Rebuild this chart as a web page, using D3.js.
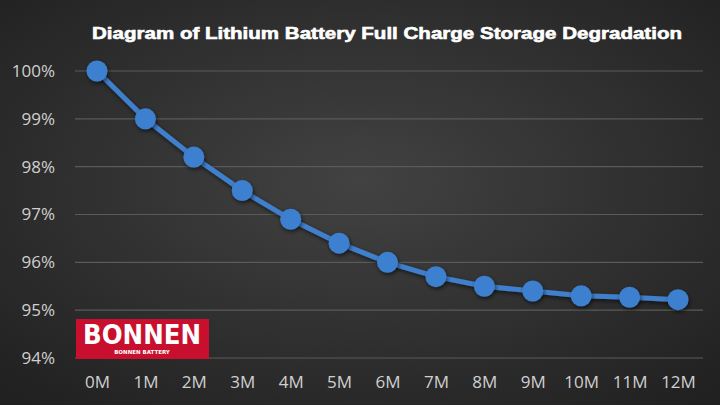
<!DOCTYPE html>
<html><head><meta charset="utf-8">
<script src="https://cdn.jsdelivr.net/npm/d3@7"></script>
<style>body{margin:0;background:#2e2e2e}svg{display:block}</style>
</head><body>
<svg id="c" width="720" height="405"></svg>
<script>
const months = ["0M","1M","2M","3M","4M","5M","6M","7M","8M","9M","10M","11M","12M"];
const capacity = [100,99,98.2,97.5,96.9,96.4,96.0,95.7,95.5,95.4,95.3,95.27,95.22];
const yTicks = [94,95,96,97,98,99,100];
const title = "Diagram of Lithium Battery Full Charge Storage Degradation";

const svg = d3.select("#c");
const defs = svg.append("defs");
const g = defs.append("radialGradient").attr("id","bg").attr("cx","50%").attr("cy","45%").attr("r","75%");
g.append("stop").attr("offset","0%").attr("stop-color","#424242");
g.append("stop").attr("offset","100%").attr("stop-color","#1f1f1f");
const f = defs.append("filter").attr("id","sh").attr("x","-50%").attr("y","-50%").attr("width","200%").attr("height","200%");
f.append("feDropShadow").attr("dx",1).attr("dy",2).attr("stdDeviation",2).attr("flood-color","#000").attr("flood-opacity",0.6);
svg.append("rect").attr("width",720).attr("height",405).attr("fill","url(#bg)");

const x = d3.scalePoint().domain(months).range([97,678]);
const y = d3.scaleLinear().domain([94,100]).range([358,71]);

const grid = svg.append("g");
grid.selectAll("line").data(yTicks).join("line")
  .attr("x1",75).attr("x2",703).attr("y1",d=>y(d)).attr("y2",d=>y(d))
  .attr("stroke","#5a5a5a").attr("stroke-width",1.2);

const yAxis = svg.append("g").attr("transform","translate(58,0)")
  .call(d3.axisLeft(y).tickValues(yTicks).tickFormat(d=>d+"%").tickSize(0));
yAxis.select(".domain").remove();
yAxis.selectAll("text").attr("fill","#d0d0d0").attr("font-size",17).attr("font-family","'Open Sans',sans-serif");

const xAxis = svg.append("g").attr("transform","translate(0,372)")
  .call(d3.axisBottom(x).tickSize(0));
xAxis.select(".domain").remove();
xAxis.selectAll("text").attr("fill","#d0d0d0").attr("font-size",17).attr("font-family","'Open Sans',sans-serif").attr("dy","0.75em");

const data = months.map((m,i)=>({m,v:capacity[i]}));
svg.append("path").datum(data)
  .attr("d",d3.line().x(d=>x(d.m)).y(d=>y(d.v)))
  .attr("fill","none").attr("stroke","#3f7fcc").attr("stroke-width",5).attr("filter","url(#sh)");
svg.append("g").selectAll("circle").data(data).join("circle")
  .attr("cx",d=>x(d.m)).attr("cy",d=>y(d.v)).attr("r",10.5)
  .attr("fill","#3d80d0").attr("filter","url(#sh)");

svg.append("text").attr("x",92).attr("y",39).attr("textLength",590).attr("lengthAdjust","spacingAndGlyphs")
  .attr("fill","#fff").attr("font-weight","900").attr("font-size",17)
  .attr("stroke","#fff").attr("stroke-width",0.6)
  .attr("font-family","'Liberation Sans',Arial,sans-serif").text(title);

// logo
const lg = svg.append("g");
lg.append("rect").attr("x",76).attr("y",319).attr("width",133).attr("height",40).attr("fill","#c8102e");
lg.append("text").attr("x",142).attr("y",344).attr("text-anchor","middle").attr("fill","#fff")
  .attr("font-size",26).attr("font-weight","bold").attr("font-family","'DejaVu Sans',sans-serif")
  .attr("textLength",118).attr("lengthAdjust","spacingAndGlyphs").text("BONNEN");
lg.append("text").attr("x",142).attr("y",354).attr("text-anchor","middle").attr("fill","#fff")
  .attr("font-size",5.5).attr("font-weight","bold").attr("font-family","'DejaVu Sans',sans-serif").text("BONNEN BATTERY");
</script>
</body></html>
